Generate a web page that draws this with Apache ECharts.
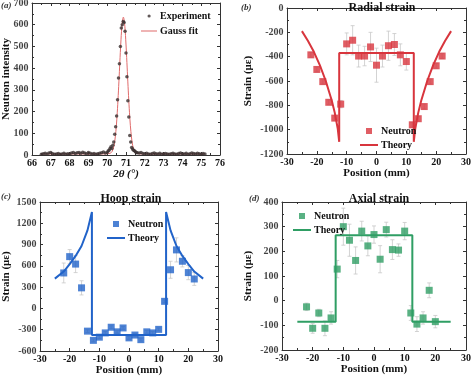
<!DOCTYPE html>
<html><head><meta charset="utf-8">
<script src="https://cdn.jsdelivr.net/npm/echarts@6/dist/echarts.min.js"></script>
<style>html,body{margin:0;padding:0;background:#fff}#c{width:474px;height:378px}</style>
</head><body><div id="c"></div>
<script>
// Panel (a) data
const aExpX = [66.5,66.6,66.7,66.8,66.9,67.0,67.1,67.2,67.3,67.4,67.5,67.6,67.7,67.8,67.9,68.0,68.1,68.2,68.3,68.4,68.5,68.6,68.7,68.8,68.9,69.0,69.1,69.2,69.3,69.4,69.5,69.6,69.7,69.8,69.9,
 70.0,70.05,70.1,70.15,70.2,70.25,70.3,70.35,70.4,70.45,70.5,70.55,70.6,70.65,70.7,70.75,70.8,70.85,70.9,70.95,71.0,71.05,71.1,71.15,71.2,71.25,71.3,71.35,71.4,71.45,71.5,71.55,71.6,
 71.7,71.8,71.9,72.0,72.1,72.2,72.3,72.4,72.5,72.6,72.7,72.8,72.9,73.0,73.1,73.2,73.3,73.4,73.5,73.6,73.7,73.8,73.9,74.0,74.1,74.2,74.3,74.4,74.5,74.6,74.7,74.8,74.9,75.0,75.1,75.2];
const aExpY = [3,6,8,5,9,12,6,4,5,7,3,5,8,4,6,5,9,11,7,10,12,8,13,9,6,11,8,5,7,4,6,8,10,14,9,
 12,18,22,30,38,30,45,60,95,130,180,255,355,420,500,585,600,615,610,570,470,360,250,175,90,60,35,28,22,20,15,12,10,
 9,12,7,6,8,5,4,7,9,6,5,8,4,6,7,5,3,6,8,5,4,7,9,6,5,8,4,6,9,7,5,8,6,4,7,5];
const aFitX = [66.5,69.8,70.0,70.16,70.26,70.36,70.41,70.46,70.51,70.56,70.61,70.66,70.71,70.76,70.81,70.86,70.91,70.96,71.01,71.06,71.11,71.16,71.21,71.26,71.31,71.36,71.46,71.56,71.8,75.2];
const aFitY = [5,5,6,8,16,42,69,108,162,232,315,405,493,568,617,635,617,568,493,405,315,232,162,108,69,42,16,8,5,5];
const aYTicks = [0,100,200,300,400,500,600,700];

// Panel (b) radial strain
const posX = [-22,-20,-18,-16,-14,-12,-10,-8,-6,-4,-2,0,2,4,6,8,10,12,14,16,18,20,22];
const bY =   [-385,-505,-605,-775,-905,-790,-295,-265,-395,-395,-320,-470,-395,-310,-300,-385,-440,-960,-910,-810,-605,-475,-395];
const bErr = [20,20,20,20,20,30,90,120,90,80,120,140,90,120,90,90,70,20,20,20,20,20,20];
const bTheoryX = [-25,-23,-21,-19,-17,-15,-14,-13,-12.5,-12.5,12.5,12.5,13,14,15,17,19,21,23,25];
const bTheoryY = [-190,-270,-360,-470,-600,-760,-860,-990,-1100,-370,-370,-1100,-990,-860,-760,-600,-470,-360,-270,-190];
const bYTicks = [-1200,-1000,-800,-600,-400,-200,0];

// Panel (c) hoop strain
const cY =   [500,730,625,290,-320,-450,-405,-345,-265,-330,-275,-415,-375,-440,-330,-345,-295,100,545,825,665,505,415];
const cErr = [140,100,120,100,20,20,20,20,20,20,20,20,20,20,20,20,20,20,120,170,80,100,90];
const cTheoryX = [-25,-22,-20,-18,-16,-14,-12.5,-12.5,12.5,12.5,14,16,18,20,22,25];
const cTheoryY = [420,520,625,740,880,1100,1360,-375,-375,1360,1100,880,740,625,520,420];
const cYTicks = [-600,-300,0,300,600,900,1200,1500];

// Panel (d) axial strain
const dX =   [-22,-20,-18,-16,-14,-12,-10,-8,-6,-4,-2,0,2,4,6,8,10,12,14,16,18,20];
const dY =   [-25,-112,-50,-112,-70,128,300,245,163,282,222,268,168,288,207,205,282,-50,-95,-70,42,-85];
const dErr = [15,20,15,30,25,35,75,65,55,40,40,35,55,30,40,25,35,30,30,25,30,25];
const dTheoryX = [-25,-12.5,-12.5,12.5,12.5,25];
const dTheoryY = [-85,-85,265,265,-85,-85];
const dYTicks = [-200,-100,0,100,200,300,400];

const F = 'Liberation Serif, Times New Roman, serif';
const lab = {fontFamily:F,fontWeight:'bold',fontSize:10,color:'#111',formatter:v=>String(v),showMinLabel:true,showMaxLabel:true,hideOverlap:false};
const zip = (xs, ys) => xs.map((x,i)=>[x, ys[i]]);
const errData = (xs, ys, es) => xs.map((x,i)=>[x, ys[i]-es[i], ys[i]+es[i]]);

const grids = [
  {left:29, top:3, width:191, height:152},
  {left:287, top:8, width:180, height:146},
  {left:35, top:202, width:183, height:149},
  {left:282, top:202, width:185, height:148}
];
const xCfg = [
  {min:66,max:76,interval:1,name:'2θ (°)',nameGap:14,italic:true},
  {min:-30,max:30,interval:10,name:'Position (mm)',nameGap:12},
  {min:-30,max:30,interval:10,name:'Position (mm)',nameGap:12},
  {min:-30,max:30,interval:10,name:'Position (mm)',nameGap:12}
];
const yCfg = [
  {min:0,max:700,interval:100,name:'Neutron intensity',nameGap:20,ticks:aYTicks},
  {min:-1200,max:0,interval:200,name:'Strain (με)',nameGap:33,ticks:bYTicks},
  {min:-600,max:1500,interval:300,name:'Strain (με)',nameGap:28,ticks:cYTicks},
  {min:-200,max:400,interval:100,name:'Strain (με)',nameGap:28,ticks:dYTicks}
];
const axLine = {show:true,onZero:false,lineStyle:{color:'#333',width:1}};
const tick = {inside:true,length:3,lineStyle:{color:'#333'}};
const minor = {show:true,splitNumber:2,length:2,lineStyle:{color:'#333'}};
const xAxis = [], yAxis = [];
const series = [];
grids.forEach((g,i)=>{
  const xc = xCfg[i], yc = yCfg[i];
  xAxis.push({type:'value',gridIndex:i,min:xc.min,max:xc.max,interval:xc.interval,position:'bottom',
    name:xc.name,nameLocation:'middle',nameGap:xc.nameGap,
    nameTextStyle:{fontFamily:F,fontWeight:'bold',fontSize:11,color:'#111',fontStyle:xc.italic?'italic':'normal'},
    axisLine:axLine,axisTick:tick,minorTick:minor,
    axisLabel:Object.assign({margin:3},lab),splitLine:{show:false}});
  xAxis.push({type:'value',gridIndex:i,min:xc.min,max:xc.max,interval:xc.interval,position:'top',
    axisLine:axLine,axisTick:tick,minorTick:minor,axisLabel:{show:false},splitLine:{show:false}});
  yAxis.push({type:'value',gridIndex:i,min:yc.min,max:yc.max,interval:yc.interval,position:'left',
    name:yc.name,nameLocation:'middle',nameGap:yc.nameGap,
    nameTextStyle:{fontFamily:F,fontWeight:'bold',fontSize:11,color:'#111'},
    axisLine:axLine,axisTick:tick,minorTick:minor,
    axisLabel:{show:false},splitLine:{show:false}});
  yAxis.push({type:'value',gridIndex:i,min:yc.min,max:yc.max,interval:yc.interval,position:'right',
    axisLine:axLine,axisTick:tick,minorTick:minor,axisLabel:{show:false},splitLine:{show:false}});
  // y tick labels, placed through the axis scale at the left edge
  series.push({type:'scatter',xAxisIndex:i*2,yAxisIndex:i*2,silent:true,clip:false,symbolSize:1,z:20,
    itemStyle:{color:'rgba(0,0,0,0)'},
    labelLayout:{hideOverlap:false},
    data:yc.ticks.map(t=>[xc.min,t]),
    label:{show:true,position:'left',distance:3,align:'right',verticalAlign:'middle',
      fontFamily:F,fontWeight:'bold',fontSize:10,color:'#111',
      formatter:p=>String(p.value[1])}});
});

function errSeries(i, data){
  return {type:'custom',xAxisIndex:i*2,yAxisIndex:i*2,data:data,silent:true,z:1,
    renderItem:function(params, api){
      const x=api.value(0), lo=api.value(1), hi=api.value(2);
      const p1=api.coord([x,lo]), p2=api.coord([x,hi]);
      const st={stroke:'#c8c8c8',lineWidth:0.8};
      return {type:'group',children:[
        {type:'line',shape:{x1:p1[0],y1:p1[1],x2:p2[0],y2:p2[1]},style:st},
        {type:'line',shape:{x1:p1[0]-2,y1:p1[1],x2:p1[0]+2,y2:p1[1]},style:st},
        {type:'line',shape:{x1:p2[0]-2,y1:p2[1],x2:p2[0]+2,y2:p2[1]},style:st}
      ]};
    }};
}
const red='#d8353d', blue='#2163c9', green='#2f9e64';
series.push(
  {type:'line',name:'Gauss fit',xAxisIndex:0,yAxisIndex:0,data:zip(aFitX,aFitY),symbol:'none',smooth:0.3,
   lineStyle:{color:'#e06b6b',width:1},itemStyle:{color:'#e06b6b'},z:2},
  {type:'scatter',name:'Experiment',xAxisIndex:0,yAxisIndex:0,data:zip(aExpX,aExpY),symbol:'circle',symbolSize:3.5,
   itemStyle:{color:'#3a3030'},z:3},

  errSeries(1, errData(posX,bY,bErr)),
  {type:'line',name:'Theory',xAxisIndex:2,yAxisIndex:2,data:zip(bTheoryX,bTheoryY),symbol:'none',smooth:false,
   lineStyle:{color:red,width:2},itemStyle:{color:red},z:2},
  {type:'scatter',name:'Neutron',xAxisIndex:2,yAxisIndex:2,data:zip(posX,bY),symbol:'rect',symbolSize:7,itemStyle:{color:red},z:3},

  errSeries(2, errData(posX,cY,cErr)),
  {type:'line',name:'Theory ',xAxisIndex:4,yAxisIndex:4,data:zip(cTheoryX,cTheoryY),symbol:'none',smooth:false,
   lineStyle:{color:blue,width:2},itemStyle:{color:blue},z:2},
  {type:'scatter',name:'Neutron ',xAxisIndex:4,yAxisIndex:4,data:zip(posX,cY),symbol:'rect',symbolSize:7,itemStyle:{color:blue},z:3},

  errSeries(3, errData(dX,dY,dErr)),
  {type:'line',name:'Theory  ',xAxisIndex:6,yAxisIndex:6,data:zip(dTheoryX,dTheoryY),symbol:'none',smooth:false,
   lineStyle:{color:green,width:2},itemStyle:{color:green},z:2},
  {type:'scatter',name:'Neutron  ',xAxisIndex:6,yAxisIndex:6,data:zip(dX,dY),symbol:'rect',symbolSize:7,itemStyle:{color:green},z:3}
);
const legTxt = {fontFamily:F,fontWeight:'bold',fontSize:10,color:'#111',padding:[0,0,0,-2]};
const sqIcon = 'path://M0,3.5h0.01v0.01h-0.01Z M6,0h6v6h-6Z M17.99,3.5h0.01v0.01h-0.01Z';
const lnIcon = 'path://M0,0h0.01v0.01h-0.01Z M0,2H18V4H0Z M17.99,5.99h0.01v0.01h-0.01Z';
function leg(n1, n2, left, top){
  return {orient:'vertical',left:left,top:top,itemWidth:18,itemHeight:6,itemGap:4,textStyle:legTxt,
    data:[{name:n1,icon:sqIcon},{name:n2,icon:lnIcon}]};
}
const legend = [
  {orient:'vertical',left:136,top:6,itemWidth:16,itemHeight:5,itemGap:5,textStyle:legTxt,
    data:[{name:'Experiment',icon:'path://M0,2.5h0.01v0.01h-0.01Z M6.5,2.5a1.6,1.6 0 1,0 3.2,0a1.6,1.6 0 1,0 -3.2,0Z M15.99,2.5h0.01v0.01h-0.01Z'},
          {name:'Gauss fit',icon:'path://M0,0h0.01v0.01h-0.01Z M0,2H16V3H0Z M15.99,4.99h0.01v0.01h-0.01Z'}]},
  leg('Neutron','Theory',355,121),
  leg('Neutron ','Theory ',102,214),
  leg('Neutron  ','Theory  ',288,206)
];
const tStyle = {fontFamily:F,fontWeight:'bold',fontSize:12,color:'#111'};
const pStyle = {fontFamily:F,fontStyle:'italic',fontSize:9,color:'#333'};
const title = [
  {text:'Radial strain',left:377,top:-3,textAlign:'center',textStyle:tStyle},
  {text:'Hoop strain',left:126,top:188,textAlign:'center',textStyle:tStyle},
  {text:'Axial strain',left:374,top:188,textAlign:'center',textStyle:tStyle},
  {text:'(a)',left:-4,top:-4,textStyle:pStyle},
  {text:'(b)',left:236,top:-2,textStyle:pStyle},
  {text:'(c)',left:-4,top:187,textStyle:pStyle},
  {text:'(d)',left:244,top:189,textStyle:pStyle}
];
const chart = echarts.init(document.getElementById('c'),null,{renderer:'canvas'});
chart.setOption({animation:false,backgroundColor:'#fff',grid:grids,xAxis:xAxis,yAxis:yAxis,series:series,legend:legend,title:title});
</script></body></html>
